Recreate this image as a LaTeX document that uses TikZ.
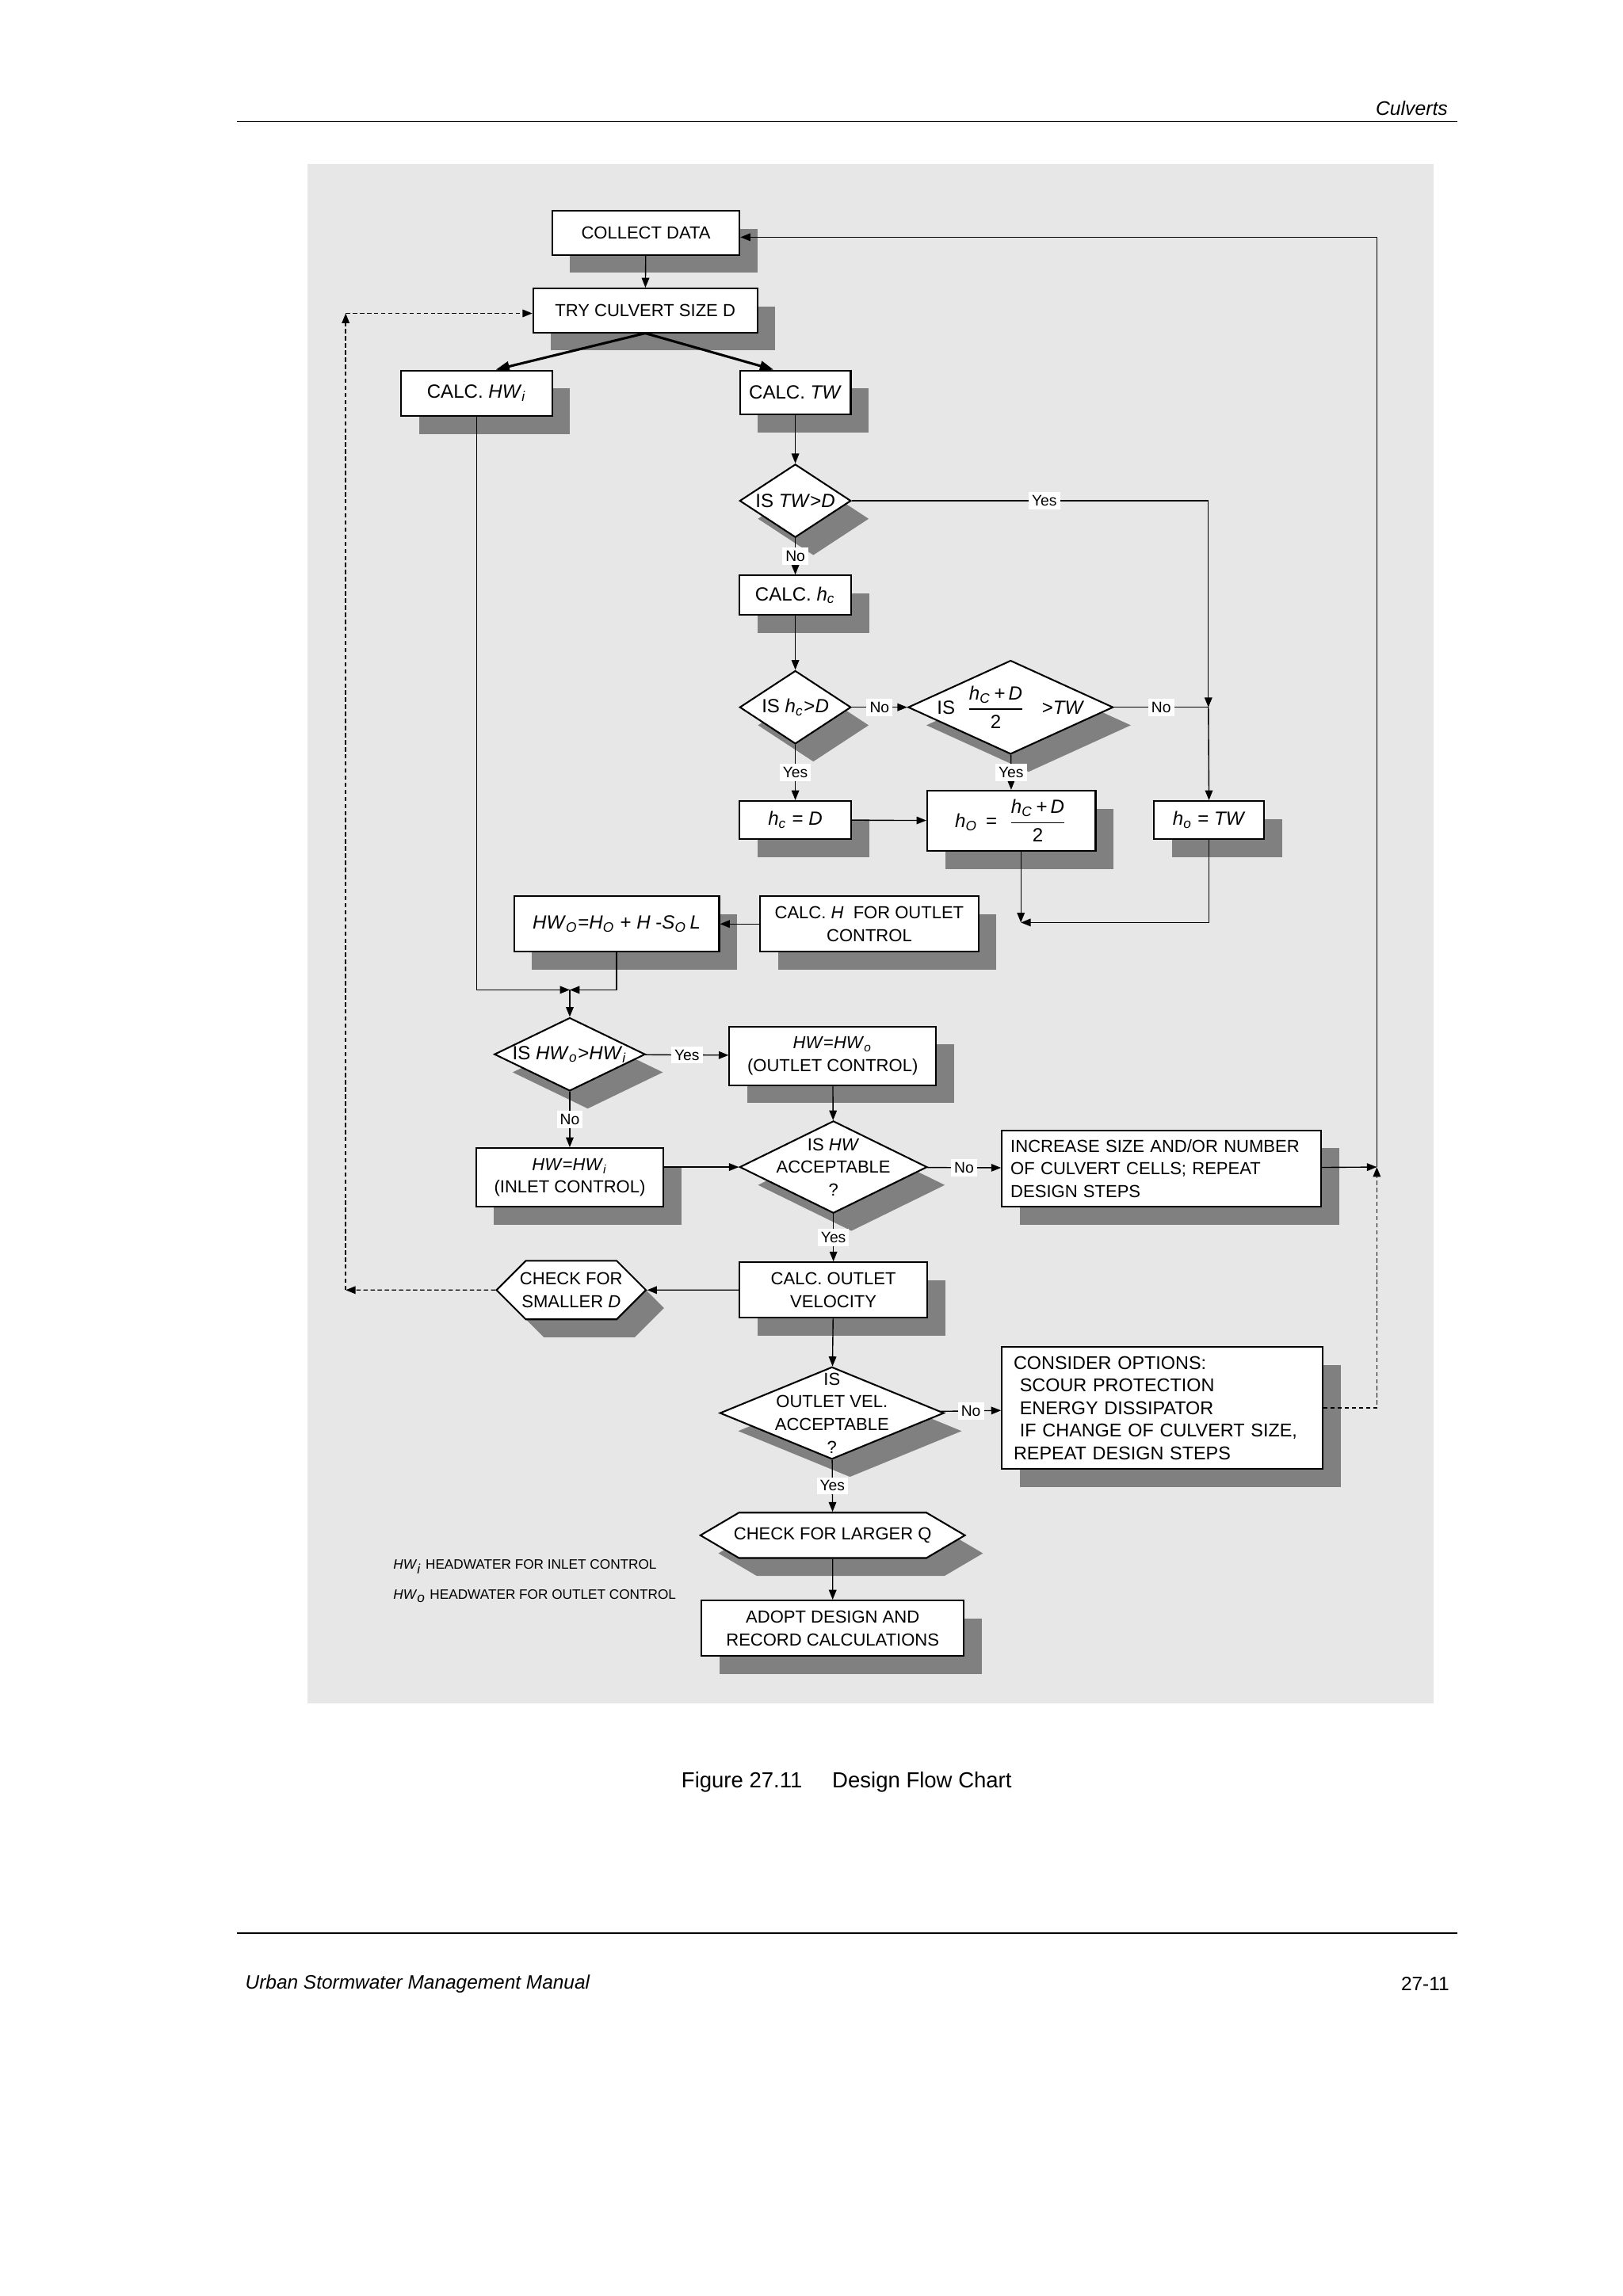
\documentclass[tikz,border=0pt]{standalone}
\usepackage{fontspec}
\setmainfont{Liberation Sans}
\usetikzlibrary{arrows.meta,shapes.geometric,shapes.symbols,shadows}
\usetikzlibrary{positioning}

\definecolor{panel}{gray}{0.905}
\definecolor{shadegray}{gray}{0.5}
\newcommand{\pu}{0.53726pt}
\newcommand{\boxfont}{\fontsize{6.4}{8.3}\selectfont}
\newcommand{\bigfont}{\fontsize{7}{8.3}\selectfont}
\newcommand{\vsub}[2]{\textit{#1}\textsubscript{\textit{#2}}}
\newcommand{\halfsum}{$\displaystyle\frac{\mbox{\vsub{h}{C}\,+\,\textit{D}}}{\mbox{2}}$}

\tikzstyle{boxshadow} = [drop shadow={opacity=1, fill=shadegray, shadow xshift=6.6pt, shadow yshift=-6.6pt}]
\tikzstyle{process} = [rectangle, draw=black, line width=0.6pt, fill=white, align=center, font=\boxfont, boxshadow]
\tikzstyle{decision} = [diamond, draw=black, line width=0.6pt, fill=white, inner sep=0pt, boxshadow]
\tikzstyle{hexbox} = [signal, signal to=east and west, draw=black, line width=0.6pt, fill=white, align=center, font=\boxfont, inner ysep=1pt, boxshadow]
\tikzstyle{flowline} = [-{Triangle[length=3.6pt,width=2.8pt]}, line width=0.4pt]
\tikzstyle{backline} = [flowline, dash pattern=on 1.6pt off 1pt]
\tikzstyle{answer} = [fill=white, inner sep=1.2pt, font=\fontsize{5.6}{6}\selectfont]
\tikzset{boxsize/.style 2 args={minimum width=#1*\pu, minimum height=#2*\pu}}

\begin{document}
\begin{tikzpicture}[x=\pu, y=-\pu]
\useasboundingbox (0,0) rectangle (1108,1568);
\fill[panel] (210,112) rectangle (979,1163);

% page header and footer
\draw[line width=0.5pt] (162,83) -- (995,83);
\node[anchor=east, font=\fontsize{7.2}{8}\selectfont\itshape] (head) at (995,74) {Culverts};
\draw[line width=0.5pt] (162,1320) -- (995,1320);
\node[anchor=west, font=\fontsize{7.1}{8}\selectfont\itshape] (foot) at (161,1355) {Urban Stormwater Management Manual};
\node[anchor=east, font=\fontsize{7.1}{8}\selectfont] (page) at (996,1355) {27-11};
\node[font=\fontsize{8}{9}\selectfont] (caption) at (578,1217) {Figure 27.11\hspace{11pt}Design Flow Chart};

% boxes
\node[process, boxsize={128}{30}] (collect) at (441,159) {COLLECT DATA};
\node[process, boxsize={153}{30}] (trysize) at (440.5,212) {TRY CULVERT SIZE D};
\node[process, boxsize={103}{31}, font=\bigfont] (calchwi) at (325.5,268.5) {CALC. \vsub{HW}{i}};
\node[process, boxsize={74}{30}, font=\bigfont] (calctw) at (543,268) {CALC. \textit{TW}};
\node[decision, boxsize={76}{50}, label={[font=\bigfont]center:{IS \textit{TW}>\textit{D}}}] (istw) at (543,342) {};
\node[process, boxsize={76}{27}, font=\bigfont] (calchc) at (543,406.5) {CALC. \vsub{h}{c}};
\node[decision, boxsize={76}{50}, label={[font=\bigfont]center:{IS \vsub{h}{c}>\textit{D}}}] (ishc) at (543,483) {};
\node[decision, boxsize={140}{64}, label={[font=\bigfont]center:{IS\hspace{4pt}\halfsum\hspace{6pt}>\textit{TW}}}] (ishalf) at (690,483) {};
\node[process, boxsize={76}{26}, font=\bigfont] (hceq) at (543,560) {\vsub{h}{c} = \textit{D}};
\node[process, boxsize={115}{37}, font=\bigfont] (hhalf) at (690.5,560.5) {\vsub{h}{O}\hspace{3pt}=\hspace{4pt}\halfsum};
\node[process, boxsize={75}{26}, font=\bigfont] (hotw) at (825.5,560) {\vsub{h}{o} = \textit{TW}};
\node[process, boxsize={140}{38}, font=\bigfont] (hwo) at (421,631) {\vsub{HW}{O}=\vsub{H}{O} + \textit{H} -\vsub{S}{O}\,\textit{L}};
\node[process, boxsize={149}{38}] (calch) at (593.5,631) {CALC. \textit{H}\ \ FOR OUTLET\\CONTROL};
\node[decision, boxsize={103}{50}, label={[font=\bigfont]center:{IS \vsub{HW}{o}>\vsub{HW}{i}}}] (cmphw) at (389,720) {};
\node[process, boxsize={141}{40}] (hwoutlet) at (568.5,721) {\textit{HW}=\vsub{HW}{o}\\(OUTLET CONTROL)};
\node[process, boxsize={128}{40}] (hwinlet) at (389,804) {\textit{HW}=\vsub{HW}{i}\\(INLET CONTROL)};
\node[decision, boxsize={128}{63}, label={[font=\boxfont, align=center]center:{IS \textit{HW}\\ACCEPTABLE\\?}}] (accept) at (569,797) {};
\node[process, boxsize={218}{50}, text width=110.7pt, inner xsep=3.2pt, align=left] (increase) at (793,798) {INCREASE SIZE AND/OR NUMBER\\OF CULVERT CELLS; REPEAT\\DESIGN STEPS};
\node[process, boxsize={128}{38}] (outvel) at (569,881) {CALC. OUTLET\\VELOCITY};
\node[hexbox, boxsize={102}{40}, inner xsep=-2.2pt, signal pointer angle=90] (smaller) at (390,881) {CHECK FOR\\SMALLER \textit{D}};
\node[decision, boxsize={153}{63}, label={[font=\boxfont, align=center]center:{IS\\OUTLET VEL.\\ACCEPTABLE\\?}}] (velok) at (568,965) {};
\node[process, boxsize={219}{83}, font=\fontsize{6.8}{8.3}\selectfont, text width=109pt, inner xsep=4.3pt, align=left] (consider) at (793.5,961.5) {CONSIDER OPTIONS:\\\ SCOUR PROTECTION\\\ ENERGY DISSIPATOR\\\ IF CHANGE OF CULVERT SIZE,\\REPEAT DESIGN STEPS};
\node[hexbox, boxsize={179}{31}, inner xsep=-1.9pt, signal pointer angle=61] (largerq) at (568.5,1048.5) {CHECK FOR LARGER Q};
\node[process, boxsize={179}{38}] (adopt) at (568.5,1112) {ADOPT DESIGN AND\\RECORD CALCULATIONS};

% legend
\node[anchor=west, font=\fontsize{5}{6}\selectfont] (keyi) at (262,1070) {\vsub{HW}{i} HEADWATER FOR INLET CONTROL};
\node[anchor=west, font=\fontsize{5}{6}\selectfont] (keyo) at (262,1090) {\vsub{HW}{o} HEADWATER FOR OUTLET CONTROL};

% joints
\coordinate (yesjoin) at (825,483);
\coordinate (outjoin) at (697,630);
\coordinate (hwjoin) at (389,676);
\coordinate (backjoin) at (940,797);
\coordinate (dashbot) at (236,881);
\coordinate (dashtop) at (236,214);

% connectors
\draw[flowline] (collect) -- (trysize);
\draw[line width=0.9pt, -{Triangle[length=5pt,width=3.6pt]}] (trysize.south) -- ([xshift=7pt]calchwi.north);
\draw[line width=0.9pt, -{Triangle[length=5pt,width=3.6pt]}] (trysize.south) -- ([xshift=-8pt]calctw.north);
\draw[flowline] (calctw) -- (istw);
\draw[flowline] (istw) -- node[answer]{No} (calchc);
\draw[flowline] (istw.east) -| node[answer, pos=0.27]{Yes} (yesjoin);
\draw[flowline] (calchc) -- (ishc);
\draw[flowline] (ishc) -- node[answer]{No} (ishalf);
\draw[line width=0.4pt] (ishalf.east) -- node[answer]{No} (yesjoin);
\draw[flowline] (yesjoin) -- (hotw);
\draw[flowline] (ishc) -- node[answer]{Yes} (hceq);
\draw[flowline] (ishalf) -- node[answer]{Yes} (hhalf);
\draw[flowline] (hceq) -- (hhalf);
\draw[flowline] (hhalf.south -| outjoin) -- (outjoin);
\draw[flowline] (hotw) |- (outjoin);
\draw[flowline] (calch) -- (hwo);
\draw[flowline] (hwo) |- (hwjoin);
\draw[flowline] (calchwi) |- (hwjoin);
\draw[flowline] (hwjoin) -- (cmphw);
\draw[flowline] (cmphw) -- node[answer]{Yes} (hwoutlet);
\draw[flowline] (cmphw) -- node[answer]{No} (hwinlet);
\draw[flowline] (hwoutlet) -- (accept);
\draw[flowline] (accept.west -| hwinlet.east) -- (accept.west);
\draw[flowline] (accept) -- node[answer]{No} (increase);
\draw[flowline] (accept) -- node[answer]{Yes} (outvel);
\draw[flowline] (increase) -- (backjoin);
\draw[flowline] (backjoin) |- ([yshift=-1.6pt]collect.east);
\draw[flowline] (outvel) -- (smaller);
\draw[backline] (smaller) -- (dashbot);
\draw[backline] (dashbot) -- (dashtop);
\draw[backline] (dashtop) -- (dashtop -| trysize.west);
\draw[flowline] (outvel) -- (velok);
\draw[flowline] (velok) -- node[answer]{No} (consider);
\draw[backline] (consider.east) -| (backjoin);
\draw[flowline] (velok) -- node[answer]{Yes} (largerq);
\draw[flowline] (largerq) -- (adopt);
\end{tikzpicture}
\end{document}
